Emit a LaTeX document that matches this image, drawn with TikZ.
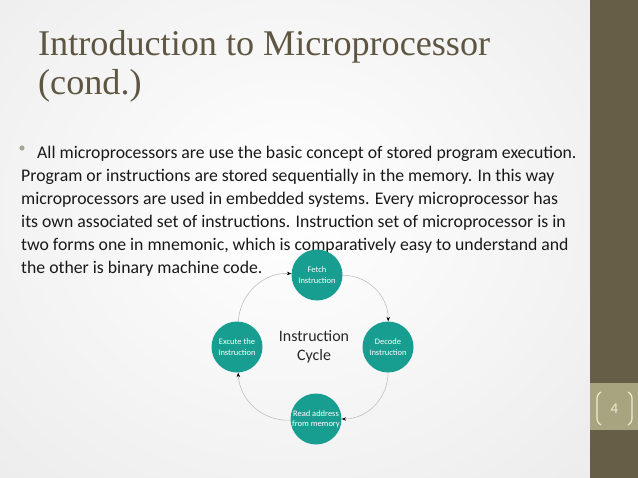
\documentclass[tikz,border=0pt]{standalone}
\usepackage{fontspec}
\setmainfont{Liberation Serif}
\newfontfamily\bodyfont{Carlito}
\usetikzlibrary{arrows.meta}
\definecolor{titlecol}{RGB}{94,86,66}
\definecolor{barcol}{RGB}{103,94,72}
\definecolor{bandcol}{RGB}{168,164,128}
\definecolor{bracketcol}{RGB}{240,236,212}
\definecolor{tealcol}{RGB}{24,158,144}
\definecolor{bulletcol}{RGB}{168,166,146}
\tikzset{
  stepnode/.style={circle,fill=tealcol,minimum size=51bp,inner sep=0pt,
    text=white,align=center,font=\bodyfont\fontsize{8.5}{10.5}\selectfont},
  cycarrow/.style={draw=black!25,line width=0.6pt,
    -{Stealth[length=4.5pt,width=3.5pt,color=black]}}
}
\begin{document}
\begin{tikzpicture}[x=1bp,y=-1bp]
\useasboundingbox (0,0) rectangle (638,478);
\shade[inner color=white,outer color=black!8] (-180,-200) rectangle (760,620);
\fill[barcol] (590,0) rectangle (638,478);
\fill[bandcol] (590,383) rectangle (638,430);
\draw[bracketcol,line width=1.2pt,rounded corners=3bp] (601,392) -- (597,395) -- (597,422) -- (601,425);
\draw[bracketcol,line width=1.2pt,rounded corners=3bp] (628,392) -- (632,395) -- (632,422) -- (628,425);
\node[text=bracketcol,font=\bodyfont\fontsize{15}{17}\selectfont] (page) at (614.5,408.5) {4};
% title
\node[anchor=base west,inner sep=0pt,text=titlecol,font=\fontsize{36.3}{40}\selectfont] (title) at (38,56) {Introduction to Microprocessor};
\node[anchor=base west,inner sep=0pt,text=titlecol,font=\fontsize{36.3}{40}\selectfont] (cond) at (38,95) {(cond.)};
% text
\fill[bulletcol] (22,148) circle (2.6);
\node[anchor=north west,inner sep=0pt,align=left,text=black!90,font=\bodyfont\fontsize{17.8}{23}\selectfont] (body) at (21,146)
{\hspace{16bp}All microprocessors are use the basic concept of stored program execution.\\
Program or instructions are stored sequentially in the memory. In this way\\
microprocessors are used in embedded systems. Every microprocessor has\\
its own associated set of instructions. Instruction set of microprocessor is in\\
two forms one in mnemonic, which is comparatively easy to understand and\\
the other is binary machine code.};
% cycle
\node[font=\bodyfont\fontsize{16}{19.5}\selectfont,align=center,text=black!85] (cycle) at (314,347) {Instruction\\Cycle};
\node[stepnode] (fetch) at (317,275) {Fetch\\Instruction};
\node[stepnode] (decode) at (388,347) {Decode\\Instruction};
\node[stepnode] (read) at (316,419) {Read address\\from memory};
\node[stepnode] (exec) at (237,347) {Excute the\\Instruction};
\draw[cycarrow] (fetch) to[bend left=45] (decode);
\draw[cycarrow] (decode) to[bend left=45] (read);
\draw[cycarrow] (read) to[bend left=45] (exec);
\draw[cycarrow] (exec) to[bend left=45] (fetch);
\end{tikzpicture}
\end{document}
